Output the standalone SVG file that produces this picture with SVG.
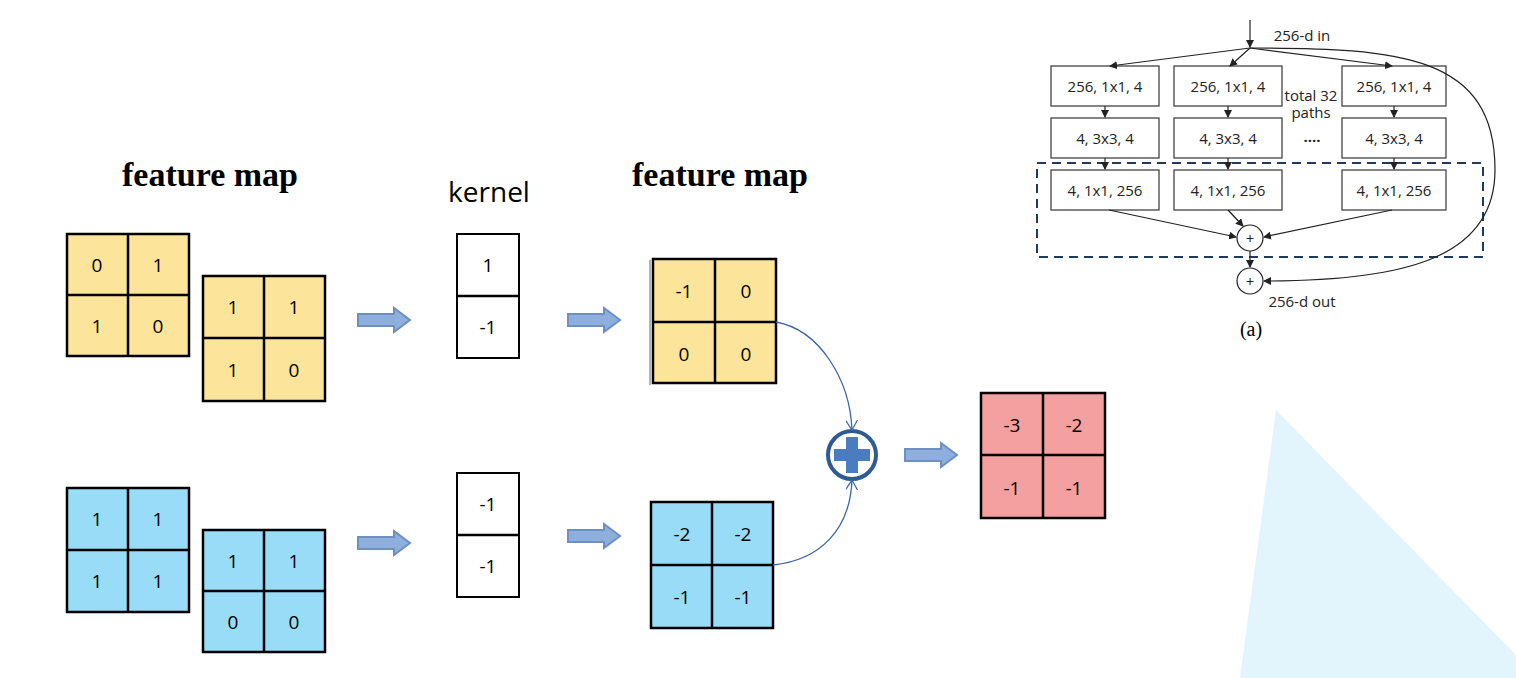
<svg xmlns="http://www.w3.org/2000/svg" width="1516" height="678" viewBox="0 0 1516 678">
<style>
.y{fill:#fde49b;stroke:#000;stroke-width:2.5}
.b{fill:#99dcf8;stroke:#000;stroke-width:2.5}
.r{fill:#f4a0a0;stroke:#000;stroke-width:2.5}
.k{fill:#fff;stroke:#000;stroke-width:2}
.ln{stroke:#000;stroke-width:2.5}
.n{font-family:"Open Sans",sans-serif;font-size:19px;text-anchor:middle;fill:#000}
.h{font-family:"Liberation Serif",serif;font-weight:bold;font-size:34px;text-anchor:middle}
.bx{fill:#fff;stroke:#444;stroke-width:1.3}
.s{font-family:"Open Sans",sans-serif;font-size:15px;text-anchor:middle;fill:#222}
.t{stroke:#222;stroke-width:1.2;fill:none}
.fa{fill:#8eaedb;stroke:#6d8fc2;stroke-width:2}
</style>
<defs>
<marker id="m" markerWidth="8" markerHeight="8" refX="7" refY="4" orient="auto" markerUnits="userSpaceOnUse"><path d="M0,0 L8,4 L0,8 z" fill="#222"/></marker>
<marker id="mb" markerWidth="12" markerHeight="12" refX="10" refY="6" orient="auto" markerUnits="userSpaceOnUse"><path d="M0,0 L10,6 L0,12" fill="none" stroke="#3a66a8" stroke-width="1.2"/></marker>
<path id="fat" d="M0,-6 H36 V-12 L52,0 L36,12 V6 H0 z"/>
</defs>
<polygon points="1276,410 1516,655 1516,678 1240,678" fill="#e2f4fc"/>
<text class="h" x="210" y="186">feature map</text>
<text class="h" x="720" y="186">feature map</text>
<text x="489" y="202" font-family="Open Sans,sans-serif" font-size="28" text-anchor="middle">kernel</text>
<g id="yin1"><rect class="y" x="67" y="234" width="122" height="122"/><path class="ln" d="M128,234V356M67,295H189"/><text class="n" x="97" y="272">0</text><text class="n" x="158" y="272">1</text><text class="n" x="97" y="333">1</text><text class="n" x="158" y="333">0</text></g>
<g id="yin2"><rect class="y" x="203" y="276" width="122" height="125"/><path class="ln" d="M264,276V401M203,338H325"/><text class="n" x="233" y="314">1</text><text class="n" x="294" y="314">1</text><text class="n" x="233" y="377">1</text><text class="n" x="294" y="377">0</text></g>
<g id="bin1"><rect class="b" x="67" y="488" width="122" height="124"/><path class="ln" d="M128,488V612M67,550H189"/><text class="n" x="97" y="526">1</text><text class="n" x="158" y="526">1</text><text class="n" x="97" y="588">1</text><text class="n" x="158" y="588">1</text></g>
<g id="bin2"><rect class="b" x="203" y="530" width="122" height="122"/><path class="ln" d="M264,530V652M203,591H325"/><text class="n" x="233" y="568">1</text><text class="n" x="294" y="568">1</text><text class="n" x="233" y="629">0</text><text class="n" x="294" y="629">0</text></g>
<g id="k1"><rect class="k" x="457" y="234" width="62" height="124"/><path class="ln" d="M457,296H519" stroke-width="2"/><text class="n" x="488" y="272" font-size="16">1</text><text class="n" x="488" y="334" font-size="16">-1</text></g>
<g id="k2"><rect class="k" x="457" y="473" width="62" height="124"/><path class="ln" d="M457,535H519" stroke-width="2"/><text class="n" x="488" y="511" font-size="16">-1</text><text class="n" x="488" y="573" font-size="16">-1</text></g>
<g id="yout"><rect class="y" x="653" y="259" width="123" height="124"/><path class="ln" d="M715,259V383M653,322H776"/><path d="M650,260V385" stroke="#666" stroke-width="1"/><text class="n" x="684" y="298">-1</text><text class="n" x="746" y="298">0</text><text class="n" x="684" y="361">0</text><text class="n" x="746" y="361">0</text></g>
<g id="bout"><rect class="b" x="651" y="502" width="122" height="126"/><path class="ln" d="M712,502V628M651,565H773"/><text class="n" x="682" y="541">-2</text><text class="n" x="743" y="541">-2</text><text class="n" x="682" y="604">-1</text><text class="n" x="743" y="604">-1</text></g>
<g id="res"><rect class="r" x="981" y="393" width="124" height="125"/><path class="ln" d="M1043,393V518M981,455H1105"/><text class="n" x="1012" y="432">-3</text><text class="n" x="1074" y="432">-2</text><text class="n" x="1012" y="495">-1</text><text class="n" x="1074" y="495">-1</text></g>
<g id="plus"><circle cx="852" cy="455" r="24" fill="#fff" stroke="#2f5b93" stroke-width="4"/><path d="M846,437h12v12h12v12h-12v12h-12v-12h-12v-12h12z" fill="#4a7cc0"/></g>
<g id="connectors">
<use href="#fat" class="fa" x="358" y="320"/>
<use href="#fat" class="fa" x="568" y="320"/>
<use href="#fat" class="fa" x="358" y="543"/>
<use href="#fat" class="fa" x="568" y="536"/>
<use href="#fat" class="fa" x="905" y="455"/>
<path d="M776,322 C820,330 850,380 852,430" fill="none" stroke="#3a66a8" stroke-width="1.3" marker-end="url(#mb)"/>
<path d="M773,565 C820,560 850,530 852,480" fill="none" stroke="#3a66a8" stroke-width="1.3" marker-end="url(#mb)"/>
</g>
<g id="resnext">
<rect class="bx" x="1051" y="66" width="108" height="40"/><text class="s" x="1105" y="92">256, 1x1, 4</text>
<rect class="bx" x="1174" y="66" width="108" height="40"/><text class="s" x="1228" y="92">256, 1x1, 4</text>
<rect class="bx" x="1342" y="66" width="104" height="40"/><text class="s" x="1394" y="92">256, 1x1, 4</text>
<rect class="bx" x="1051" y="118" width="108" height="40"/><text class="s" x="1105" y="144">4, 3x3, 4</text>
<rect class="bx" x="1174" y="118" width="108" height="40"/><text class="s" x="1228" y="144">4, 3x3, 4</text>
<rect class="bx" x="1342" y="118" width="104" height="40"/><text class="s" x="1394" y="144">4, 3x3, 4</text>
<rect class="bx" x="1051" y="170" width="108" height="40"/><text class="s" x="1105" y="196">4, 1x1, 256</text>
<rect class="bx" x="1174" y="170" width="108" height="40"/><text class="s" x="1228" y="196">4, 1x1, 256</text>
<rect class="bx" x="1342" y="170" width="104" height="40"/><text class="s" x="1394" y="196">4, 1x1, 256</text>
<text class="s" x="1311" y="101" font-size="12">total 32</text><text class="s" x="1311" y="118" font-size="12">paths</text>
<text class="s" x="1312" y="146" font-size="22" font-weight="bold">····</text>
<text class="s" x="1302" y="41">256-d in</text>
<text class="s" x="1302" y="307">256-d out</text>
<text x="1251" y="336" font-family="Liberation Serif,serif" font-size="20" text-anchor="middle">(a)</text>
<circle cx="1250" cy="238" r="13" fill="#fff" stroke="#222" stroke-width="1.2"/><text class="s" x="1250" y="244" font-size="18">+</text>
<circle cx="1250" cy="281" r="13" fill="#fff" stroke="#222" stroke-width="1.2"/><text class="s" x="1250" y="287" font-size="18">+</text>
<rect x="1037" y="163" width="446" height="94" fill="none" stroke="#1f3a5f" stroke-width="2" stroke-dasharray="9,6"/>
<path class="t" d="M1250,20V47" marker-end="url(#m)"/>
<path class="t" d="M1250,48L1110,66" marker-end="url(#m)"/>
<path class="t" d="M1250,48L1230,66" marker-end="url(#m)"/>
<path class="t" d="M1250,48L1392,66" marker-end="url(#m)"/>
<path class="t" d="M1105,106V117" marker-end="url(#m)"/><path class="t" d="M1228,106V117" marker-end="url(#m)"/><path class="t" d="M1394,106V117" marker-end="url(#m)"/>
<path class="t" d="M1105,158V169" marker-end="url(#m)"/><path class="t" d="M1228,158V169" marker-end="url(#m)"/><path class="t" d="M1394,158V169" marker-end="url(#m)"/>
<path class="t" d="M1109,210L1236,237" marker-end="url(#m)"/>
<path class="t" d="M1228,210L1243,226" marker-end="url(#m)"/>
<path class="t" d="M1392,210L1264,237" marker-end="url(#m)"/>
<path class="t" d="M1250,251V267" marker-end="url(#m)"/>
<path class="t" d="M1250,48C1400,48 1495,55 1495,170C1495,260 1400,281 1264,281" marker-end="url(#m)"/>
</g>
</svg>
